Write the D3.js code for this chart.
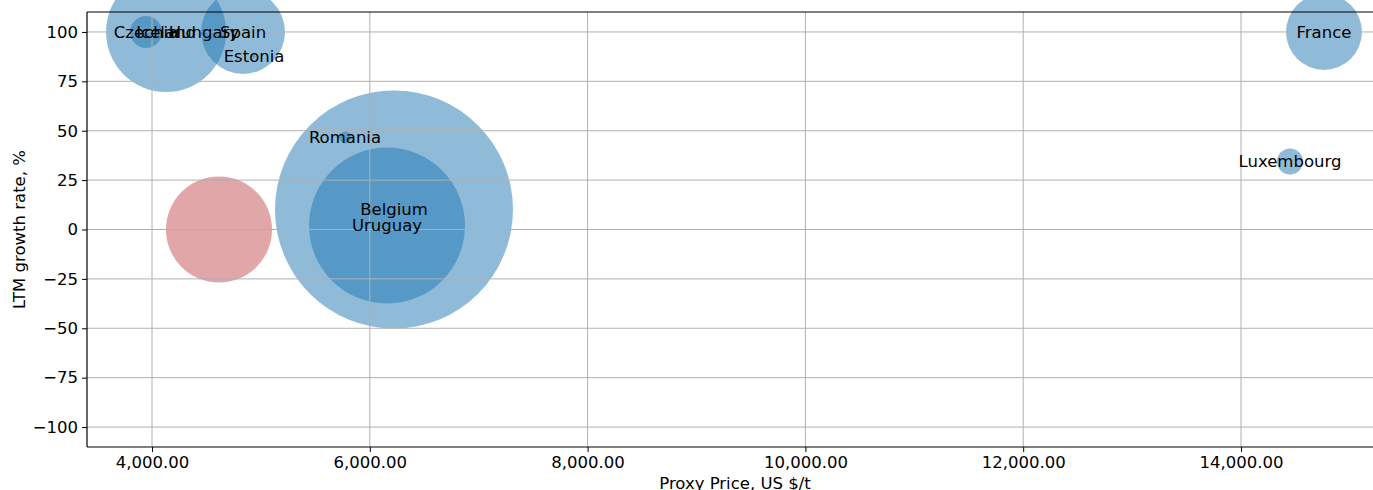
<!DOCTYPE html>
<html>
<head>
<meta charset="utf-8">
<script src="https://cdn.jsdelivr.net/npm/d3@7"></script>
<style>
  body { margin: 0; background: #fff; }
  svg { font-family: "DejaVu Sans", sans-serif; }
</style>
</head>
<body>
<svg id="chart" width="1373" height="490"></svg>
<script>
// data
const countries = ['Czechia', 'Iceland', 'Hungary', 'Spain', 'Estonia', 'Romania', 'Belgium', 'Uruguay', '', 'France', 'Luxembourg']
const prices = [3945, 4129, 4477, 4836, 4937, 5772, 6222, 6158, 4615, 14762, 14450]
const growth = [100, 100, 100, 100, 87.6, 46.6, 10.1, 2, 0, 100, 34.4]
const volumes = [25.6, 360, 0.8, 176, 0.2, 3.6, 1416, 608, 281, 144, 16.9]
const highlight = [false, false, false, false, false, false, false, false, true, false, false]

const xTicks = [4000, 6000, 8000, 10000, 12000, 14000]
const yTicks = [100, 75, 50, 25, 0, -25, -50, -75, -100]

const width = 1373, height = 490
const margin = {top: 12, right: -10, bottom: 43, left: 87}

const svg = d3.select('#chart')

const x = d3.scaleLinear()
    .domain([3403, 15304])
    .range([margin.left, width - margin.right])

const y = d3.scaleLinear()
    .domain([-110.1, 110.1])
    .range([height - margin.bottom, margin.top])

const r = d3.scaleSqrt()
    .domain([0, 1416])
    .range([0, 119])

const fmt = d3.format(',.2f')
const minus = v => v < 0 ? '\u2212' + Math.abs(v) : String(v)

const plot = svg.append('g')

const pts = countries.map((c, i) => ({
    name: c, price: prices[i], growth: growth[i], vol: volumes[i], hl: highlight[i]
}))

plot.selectAll('circle')
    .data(pts)
    .enter().append('circle')
    .attr('cx', d => x(d.price))
    .attr('cy', d => y(d.growth))
    .attr('r', d => r(d.vol))
    .attr('fill', d => d.hl ? '#c44e52' : '#1f77b4')
    .attr('fill-opacity', 0.5)

// grid sits on top of the bubbles, like matplotlib
const grid = svg.append('g')
grid.selectAll('.gx')
    .data(xTicks)
    .enter().append('line')
    .attr('x1', d => x(d)).attr('x2', d => x(d))
    .attr('y1', margin.top).attr('y2', height - margin.bottom)
    .attr('stroke', '#b0b0b0').attr('stroke-width', 1)
grid.selectAll('.gy')
    .data(yTicks)
    .enter().append('line')
    .attr('x1', margin.left).attr('x2', width)
    .attr('y1', d => y(d)).attr('y2', d => y(d))
    .attr('stroke', '#b0b0b0').attr('stroke-width', 1)

// labels
svg.append('g').selectAll('text')
    .data(pts.filter(d => d.name))
    .enter().append('text')
    .attr('x', d => x(d.price))
    .attr('y', d => y(d.growth))
    .attr('dy', '0.35em')
    .attr('text-anchor', 'middle')
    .style('font-size', '16.5px')
    .text(d => d.name)

// axes
const xAxis = svg.append('g')
    .attr('transform', `translate(0,${height - margin.bottom})`)
    .call(d3.axisBottom(x).tickValues(xTicks).tickFormat(fmt).tickSizeOuter(0).tickSize(5).tickPadding(4))
const yAxis = svg.append('g')
    .attr('transform', `translate(${margin.left},0)`)
    .call(d3.axisLeft(y).tickValues(yTicks).tickFormat(minus).tickSizeOuter(0).tickSize(5).tickPadding(4))

for (const ax of [xAxis, yAxis]) {
    ax.selectAll('text').style('font-size', '16.5px').attr('fill', '#000').style('font-family', '"DejaVu Sans", sans-serif')
    ax.selectAll('line').attr('stroke', '#000')
    ax.select('.domain').remove()
}

// spines
const spines = svg.append('g').attr('stroke', '#000').attr('stroke-width', 1.2)
spines.append('line')
    .attr('x1', margin.left).attr('x2', width)
    .attr('y1', margin.top).attr('y2', margin.top)
spines.append('line')
    .attr('x1', margin.left).attr('x2', width)
    .attr('y1', height - margin.bottom).attr('y2', height - margin.bottom)
spines.append('line')
    .attr('x1', margin.left).attr('x2', margin.left)
    .attr('y1', margin.top).attr('y2', height - margin.bottom)

svg.append('text')
    .attr('x', (margin.left + width - margin.right) / 2)
    .attr('y', 489)
    .attr('text-anchor', 'middle')
    .style('font-size', '16.5px')
    .text('Proxy Price, US $/t')

svg.append('text')
    .attr('transform', `translate(25,${y(0)}) rotate(-90)`)
    .attr('text-anchor', 'middle')
    .style('font-size', '16.5px')
    .text('LTM growth rate, %')
</script>
</body>
</html>
